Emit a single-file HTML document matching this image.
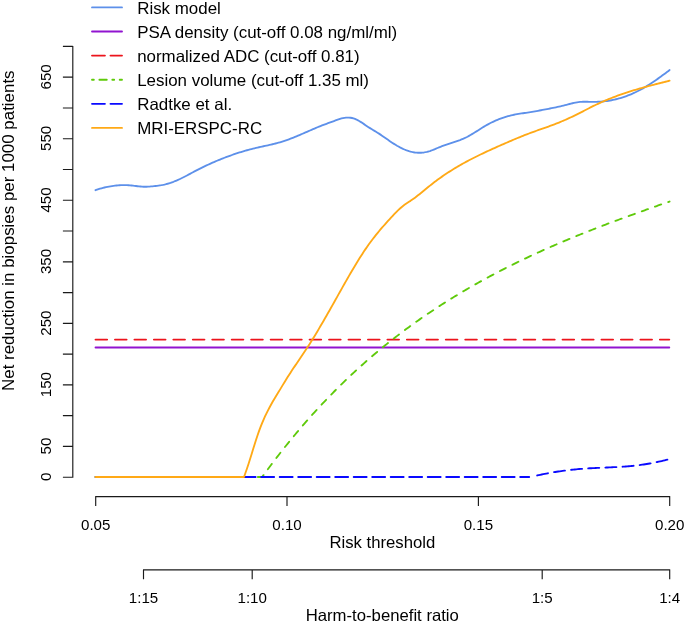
<!DOCTYPE html>
<html><head><meta charset="utf-8"><title>Decision curve</title>
<style>html,body{margin:0;padding:0;background:#fff}svg{display:block}</style></head>
<body>
<svg width="685" height="623" viewBox="0 0 685 623">
<rect width="685" height="623" fill="#fff"/>
<g fill="none" stroke-linecap="round" stroke-linejoin="round" stroke-width="1.85">
<path stroke="#5d90ea" d="M95.50,190.18 L97.00,189.67 L98.50,189.19 L100.00,188.73 L101.50,188.30 L103.00,187.90 L104.50,187.52 L106.00,187.17 L107.50,186.85 L109.00,186.56 L110.50,186.29 L112.00,186.05 L113.50,185.84 L115.00,185.65 L116.50,185.50 L118.00,185.37 L119.50,185.27 L121.00,185.20 L122.50,185.16 L124.00,185.14 L125.50,185.16 L127.00,185.20 L128.50,185.28 L130.00,185.38 L131.50,185.52 L133.00,185.68 L134.50,185.85 L136.00,186.04 L137.50,186.22 L139.00,186.38 L140.50,186.53 L142.00,186.65 L143.50,186.72 L145.00,186.75 L146.50,186.73 L148.00,186.66 L149.50,186.57 L151.00,186.45 L152.50,186.31 L154.00,186.16 L155.50,186.01 L157.00,185.83 L158.50,185.63 L160.00,185.41 L161.50,185.16 L163.00,184.87 L164.50,184.54 L166.00,184.17 L167.50,183.76 L169.00,183.31 L170.50,182.83 L172.00,182.31 L173.50,181.76 L175.00,181.17 L176.50,180.55 L178.00,179.90 L179.50,179.22 L181.00,178.51 L182.50,177.78 L184.00,177.02 L185.50,176.25 L187.00,175.46 L188.50,174.66 L190.00,173.85 L191.50,173.04 L193.00,172.23 L194.50,171.43 L196.00,170.64 L197.50,169.86 L199.00,169.10 L200.50,168.34 L202.00,167.60 L203.50,166.87 L205.00,166.14 L206.50,165.43 L208.00,164.74 L209.50,164.05 L211.00,163.37 L212.50,162.70 L214.00,162.05 L215.50,161.40 L217.00,160.77 L218.50,160.15 L220.00,159.54 L221.50,158.93 L223.00,158.34 L224.50,157.76 L226.00,157.19 L227.50,156.62 L229.00,156.07 L230.50,155.53 L232.00,155.00 L233.50,154.47 L235.00,153.96 L236.50,153.46 L238.00,152.97 L239.50,152.49 L241.00,152.02 L242.50,151.56 L244.00,151.11 L245.50,150.67 L247.00,150.24 L248.50,149.83 L250.00,149.43 L251.50,149.03 L253.00,148.66 L254.50,148.29 L256.00,147.93 L257.50,147.59 L259.00,147.25 L260.50,146.92 L262.00,146.59 L263.50,146.26 L265.00,145.94 L266.50,145.61 L268.00,145.28 L269.50,144.95 L271.00,144.60 L272.50,144.25 L274.00,143.89 L275.50,143.51 L277.00,143.12 L278.50,142.71 L280.00,142.28 L281.50,141.84 L283.00,141.37 L284.50,140.87 L286.00,140.36 L287.50,139.83 L289.00,139.28 L290.50,138.71 L292.00,138.13 L293.50,137.54 L295.00,136.93 L296.50,136.31 L298.00,135.68 L299.50,135.05 L301.00,134.40 L302.50,133.75 L304.00,133.10 L305.50,132.45 L307.00,131.79 L308.50,131.13 L310.00,130.48 L311.50,129.83 L313.00,129.18 L314.50,128.54 L316.00,127.90 L317.50,127.27 L319.00,126.66 L320.50,126.05 L322.00,125.46 L323.50,124.88 L325.00,124.32 L326.50,123.76 L328.00,123.22 L329.50,122.68 L331.00,122.14 L332.50,121.60 L334.00,121.04 L335.50,120.48 L337.00,119.92 L338.50,119.39 L340.00,118.90 L341.50,118.46 L343.00,118.10 L344.50,117.82 L346.00,117.64 L347.50,117.56 L349.00,117.59 L350.50,117.73 L352.00,117.99 L353.50,118.38 L355.00,118.90 L356.50,119.55 L358.00,120.32 L359.50,121.18 L361.00,122.11 L362.50,123.10 L364.00,124.12 L365.50,125.15 L367.00,126.17 L368.50,127.17 L370.00,128.13 L371.50,129.06 L373.00,129.96 L374.50,130.86 L376.00,131.77 L377.50,132.69 L379.00,133.65 L380.50,134.64 L382.00,135.66 L383.50,136.70 L385.00,137.75 L386.50,138.80 L388.00,139.85 L389.50,140.89 L391.00,141.92 L392.50,142.92 L394.00,143.89 L395.50,144.82 L397.00,145.72 L398.50,146.57 L400.00,147.38 L401.50,148.14 L403.00,148.85 L404.50,149.51 L406.00,150.11 L407.50,150.66 L409.00,151.15 L410.50,151.58 L412.00,151.95 L413.50,152.25 L415.00,152.49 L416.50,152.66 L418.00,152.76 L419.50,152.79 L421.00,152.75 L422.50,152.64 L424.00,152.46 L425.50,152.21 L427.00,151.89 L428.50,151.49 L430.00,151.03 L431.50,150.49 L433.00,149.91 L434.50,149.28 L436.00,148.64 L437.50,148.00 L439.00,147.37 L440.50,146.78 L442.00,146.21 L443.50,145.67 L445.00,145.15 L446.50,144.64 L448.00,144.15 L449.50,143.66 L451.00,143.18 L452.50,142.69 L454.00,142.20 L455.50,141.69 L457.00,141.17 L458.50,140.63 L460.00,140.07 L461.50,139.47 L463.00,138.84 L464.50,138.18 L466.00,137.46 L467.50,136.71 L469.00,135.90 L470.50,135.05 L472.00,134.16 L473.50,133.25 L475.00,132.32 L476.50,131.37 L478.00,130.41 L479.50,129.45 L481.00,128.50 L482.50,127.56 L484.00,126.64 L485.50,125.75 L487.00,124.89 L488.50,124.07 L490.00,123.28 L491.50,122.52 L493.00,121.80 L494.50,121.10 L496.00,120.44 L497.50,119.81 L499.00,119.22 L500.50,118.65 L502.00,118.11 L503.50,117.59 L505.00,117.11 L506.50,116.65 L508.00,116.22 L509.50,115.82 L511.00,115.44 L512.50,115.09 L514.00,114.75 L515.50,114.45 L517.00,114.16 L518.50,113.90 L520.00,113.66 L521.50,113.44 L523.00,113.22 L524.50,113.02 L526.00,112.81 L527.50,112.60 L529.00,112.38 L530.50,112.15 L532.00,111.90 L533.50,111.64 L535.00,111.36 L536.50,111.08 L538.00,110.80 L539.50,110.51 L541.00,110.23 L542.50,109.94 L544.00,109.66 L545.50,109.37 L547.00,109.09 L548.50,108.80 L550.00,108.51 L551.50,108.21 L553.00,107.91 L554.50,107.60 L556.00,107.28 L557.50,106.96 L559.00,106.63 L560.50,106.28 L562.00,105.93 L563.50,105.56 L565.00,105.18 L566.50,104.79 L568.00,104.39 L569.50,103.99 L571.00,103.60 L572.50,103.23 L574.00,102.88 L575.50,102.57 L577.00,102.30 L578.50,102.08 L580.00,101.92 L581.50,101.81 L583.00,101.76 L584.50,101.74 L586.00,101.75 L587.50,101.77 L589.00,101.80 L590.50,101.82 L592.00,101.83 L593.50,101.83 L595.00,101.82 L596.50,101.80 L598.00,101.75 L599.50,101.68 L601.00,101.59 L602.50,101.47 L604.00,101.33 L605.50,101.16 L607.00,100.96 L608.50,100.74 L610.00,100.50 L611.50,100.22 L613.00,99.92 L614.50,99.60 L616.00,99.25 L617.50,98.87 L619.00,98.47 L620.50,98.04 L622.00,97.58 L623.50,97.10 L625.00,96.59 L626.50,96.05 L628.00,95.49 L629.50,94.90 L631.00,94.28 L632.50,93.63 L634.00,92.96 L635.50,92.26 L637.00,91.53 L638.50,90.77 L640.00,89.98 L641.50,89.17 L643.00,88.33 L644.50,87.46 L646.00,86.57 L647.50,85.65 L649.00,84.70 L650.50,83.74 L652.00,82.75 L653.50,81.75 L655.00,80.72 L656.50,79.68 L658.00,78.63 L659.50,77.56 L661.00,76.47 L662.50,75.37 L664.00,74.26 L665.50,73.15 L667.00,72.02 L668.50,70.89 L669.60,70.05"/>
<path stroke="#9114d0" d="M95.5,347.5 H669.3"/>
<path stroke="#ec141c" stroke-dasharray="11.65 7.81" d="M95.5,339.6 H669.3"/>
<path stroke="#5fca0a" stroke-dasharray="6.65 7.35" stroke-dashoffset="5.66" d="M95.5,477 L262.20,477.00 L263.70,474.84 L265.20,472.80 L266.70,470.76 L268.20,468.74 L269.70,466.73 L271.20,464.74 L272.70,462.75 L274.20,460.78 L275.70,458.83 L277.20,456.88 L278.70,454.95 L280.20,453.03 L281.70,451.12 L283.20,449.22 L284.70,447.33 L286.20,445.46 L287.70,443.60 L289.20,441.75 L290.70,439.92 L292.20,438.09 L293.70,436.28 L295.20,434.48 L296.70,432.69 L298.20,430.91 L299.70,429.14 L301.20,427.38 L302.70,425.64 L304.20,423.91 L305.70,422.18 L307.20,420.47 L308.70,418.77 L310.20,417.08 L311.70,415.41 L313.20,413.74 L314.70,412.08 L316.20,410.44 L317.70,408.80 L319.20,407.18 L320.70,405.57 L322.20,403.96 L323.70,402.37 L325.20,400.79 L326.70,399.22 L328.20,397.66 L329.70,396.11 L331.20,394.57 L332.70,393.03 L334.20,391.51 L335.70,390.00 L337.20,388.50 L338.70,387.01 L340.20,385.53 L341.70,384.06 L343.20,382.60 L344.70,381.14 L346.20,379.70 L347.70,378.27 L349.20,376.84 L350.70,375.43 L352.20,374.02 L353.70,372.63 L355.20,371.24 L356.70,369.86 L358.20,368.49 L359.70,367.13 L361.20,365.78 L362.70,364.44 L364.20,363.11 L365.70,361.78 L367.20,360.47 L368.70,359.16 L370.20,357.86 L371.70,356.57 L373.20,355.29 L374.70,354.01 L376.20,352.75 L377.70,351.49 L379.20,350.24 L380.70,349.00 L382.20,347.77 L383.70,346.54 L385.20,345.33 L386.70,344.12 L388.20,342.92 L389.70,341.72 L391.20,340.54 L392.70,339.36 L394.20,338.19 L395.70,337.02 L397.20,335.87 L398.70,334.72 L400.20,333.58 L401.70,332.44 L403.20,331.32 L404.70,330.20 L406.20,329.08 L407.70,327.98 L409.20,326.88 L410.70,325.79 L412.20,324.70 L413.70,323.62 L415.20,322.55 L416.70,321.49 L418.20,320.43 L419.70,319.38 L421.20,318.33 L422.70,317.29 L424.20,316.26 L425.70,315.23 L427.20,314.21 L428.70,313.19 L430.20,312.19 L431.70,311.18 L433.20,310.19 L434.70,309.20 L436.20,308.21 L437.70,307.23 L439.20,306.26 L440.70,305.29 L442.20,304.33 L443.70,303.37 L445.20,302.42 L446.70,301.47 L448.20,300.53 L449.70,299.59 L451.20,298.66 L452.70,297.74 L454.20,296.82 L455.70,295.90 L457.20,294.99 L458.70,294.09 L460.20,293.19 L461.70,292.29 L463.20,291.40 L464.70,290.52 L466.20,289.64 L467.70,288.76 L469.20,287.89 L470.70,287.02 L472.20,286.16 L473.70,285.31 L475.20,284.45 L476.70,283.61 L478.20,282.76 L479.70,281.93 L481.20,281.09 L482.70,280.26 L484.20,279.44 L485.70,278.62 L487.20,277.80 L488.70,276.99 L490.20,276.19 L491.70,275.38 L493.20,274.59 L494.70,273.79 L496.20,273.00 L497.70,272.22 L499.20,271.44 L500.70,270.66 L502.20,269.89 L503.70,269.12 L505.20,268.35 L506.70,267.59 L508.20,266.83 L509.70,266.08 L511.20,265.33 L512.70,264.59 L514.20,263.84 L515.70,263.11 L517.20,262.37 L518.70,261.64 L520.20,260.92 L521.70,260.19 L523.20,259.47 L524.70,258.76 L526.20,258.05 L527.70,257.34 L529.20,256.63 L530.70,255.93 L532.20,255.23 L533.70,254.54 L535.20,253.85 L536.70,253.16 L538.20,252.47 L539.70,251.79 L541.20,251.11 L542.70,250.44 L544.20,249.77 L545.70,249.10 L547.20,248.43 L548.70,247.77 L550.20,247.11 L551.70,246.46 L553.20,245.80 L554.70,245.15 L556.20,244.50 L557.70,243.86 L559.20,243.22 L560.70,242.58 L562.20,241.94 L563.70,241.31 L565.20,240.68 L566.70,240.05 L568.20,239.42 L569.70,238.80 L571.20,238.18 L572.70,237.56 L574.20,236.95 L575.70,236.33 L577.20,235.72 L578.70,235.12 L580.20,234.51 L581.70,233.91 L583.20,233.31 L584.70,232.71 L586.20,232.11 L587.70,231.52 L589.20,230.93 L590.70,230.34 L592.20,229.75 L593.70,229.16 L595.20,228.58 L596.70,228.00 L598.20,227.42 L599.70,226.84 L601.20,226.26 L602.70,225.69 L604.20,225.12 L605.70,224.55 L607.20,223.98 L608.70,223.41 L610.20,222.85 L611.70,222.29 L613.20,221.72 L614.70,221.17 L616.20,220.61 L617.70,220.05 L619.20,219.50 L620.70,218.94 L622.20,218.39 L623.70,217.84 L625.20,217.29 L626.70,216.74 L628.20,216.19 L629.70,215.65 L631.20,215.11 L632.70,214.56 L634.20,214.02 L635.70,213.48 L637.20,212.94 L638.70,212.40 L640.20,211.87 L641.70,211.33 L643.20,210.79 L644.70,210.26 L646.20,209.73 L647.70,209.20 L649.20,208.66 L650.70,208.13 L652.20,207.60 L653.70,207.07 L655.20,206.55 L656.70,206.02 L658.20,205.49 L659.70,204.97 L661.20,204.44 L662.70,203.92 L664.20,203.39 L665.70,202.87 L667.20,202.34 L668.70,201.82 L669.60,201.51"/>
<path stroke="#0a0aff" stroke-dasharray="12.95 5.55" stroke-dashoffset="0.8" d="M95.5,477.0 H529.2"/>
<path stroke="#0a0aff" stroke-dasharray="11.1 6.1" stroke-dashoffset="11.1" d="M531.20,476.90 L532.70,476.52 L534.20,476.16 L535.70,475.81 L537.20,475.47 L538.70,475.13 L540.20,474.80 L541.70,474.49 L543.20,474.18 L544.70,473.87 L546.20,473.58 L547.70,473.29 L549.20,473.02 L550.70,472.75 L552.20,472.49 L553.70,472.23 L555.20,471.99 L556.70,471.75 L558.20,471.52 L559.70,471.29 L561.20,471.08 L562.70,470.87 L564.20,470.67 L565.70,470.48 L567.20,470.29 L568.70,470.11 L570.20,469.94 L571.70,469.77 L573.20,469.61 L574.70,469.46 L576.20,469.31 L577.70,469.18 L579.20,469.04 L580.70,468.92 L582.20,468.80 L583.70,468.69 L585.20,468.58 L586.70,468.48 L588.20,468.38 L589.70,468.29 L591.20,468.21 L592.70,468.13 L594.20,468.06 L595.70,467.98 L597.20,467.91 L598.70,467.85 L600.20,467.78 L601.70,467.72 L603.20,467.66 L604.70,467.59 L606.20,467.53 L607.70,467.47 L609.20,467.41 L610.70,467.34 L612.20,467.27 L613.70,467.20 L615.20,467.13 L616.70,467.05 L618.20,466.97 L619.70,466.88 L621.20,466.79 L622.70,466.70 L624.20,466.59 L625.70,466.48 L627.20,466.36 L628.70,466.24 L630.20,466.11 L631.70,465.96 L633.20,465.81 L634.70,465.65 L636.20,465.48 L637.70,465.30 L639.20,465.11 L640.70,464.90 L642.20,464.69 L643.70,464.47 L645.20,464.24 L646.70,463.99 L648.20,463.74 L649.70,463.48 L651.20,463.21 L652.70,462.92 L654.20,462.63 L655.70,462.33 L657.20,462.02 L658.70,461.70 L660.20,461.37 L661.70,461.03 L663.20,460.68 L664.70,460.32 L666.20,459.96 L667.70,459.58 L669.20,459.19 L669.60,459.09"/>
<path stroke="#ffa916" d="M95.5,477 L244.00,477.00 L245.50,472.71 L247.00,468.45 L248.50,463.95 L250.00,459.26 L251.50,454.42 L253.00,449.53 L254.50,444.68 L256.00,439.95 L257.50,435.42 L259.00,431.15 L260.50,427.14 L262.00,423.37 L263.50,419.82 L265.00,416.48 L266.50,413.32 L268.00,410.32 L269.50,407.46 L271.00,404.72 L272.50,402.07 L274.00,399.50 L275.50,396.99 L277.00,394.52 L278.50,392.07 L280.00,389.61 L281.50,387.13 L283.00,384.64 L284.50,382.16 L286.00,379.71 L287.50,377.31 L289.00,374.95 L290.50,372.64 L292.00,370.36 L293.50,368.10 L295.00,365.87 L296.50,363.66 L298.00,361.45 L299.50,359.25 L301.00,357.05 L302.50,354.83 L304.00,352.60 L305.50,350.35 L307.00,348.07 L308.50,345.75 L310.00,343.40 L311.50,341.02 L313.00,338.60 L314.50,336.15 L316.00,333.67 L317.50,331.17 L319.00,328.64 L320.50,326.09 L322.00,323.52 L323.50,320.93 L325.00,318.32 L326.50,315.70 L328.00,313.07 L329.50,310.42 L331.00,307.76 L332.50,305.10 L334.00,302.43 L335.50,299.76 L337.00,297.09 L338.50,294.41 L340.00,291.74 L341.50,289.08 L343.00,286.42 L344.50,283.77 L346.00,281.13 L347.50,278.50 L349.00,275.89 L350.50,273.30 L352.00,270.73 L353.50,268.19 L355.00,265.68 L356.50,263.20 L358.00,260.75 L359.50,258.34 L361.00,255.97 L362.50,253.64 L364.00,251.36 L365.50,249.13 L367.00,246.95 L368.50,244.82 L370.00,242.75 L371.50,240.72 L373.00,238.74 L374.50,236.81 L376.00,234.92 L377.50,233.07 L379.00,231.25 L380.50,229.47 L382.00,227.71 L383.50,225.99 L385.00,224.29 L386.50,222.61 L388.00,220.95 L389.50,219.31 L391.00,217.68 L392.50,216.06 L394.00,214.47 L395.50,212.90 L397.00,211.38 L398.50,209.92 L400.00,208.52 L401.50,207.20 L403.00,205.97 L404.50,204.84 L406.00,203.80 L407.50,202.81 L409.00,201.84 L410.50,200.86 L412.00,199.83 L413.50,198.76 L415.00,197.66 L416.50,196.52 L418.00,195.35 L419.50,194.16 L421.00,192.96 L422.50,191.74 L424.00,190.51 L425.50,189.28 L427.00,188.05 L428.50,186.83 L430.00,185.62 L431.50,184.43 L433.00,183.25 L434.50,182.10 L436.00,180.97 L437.50,179.85 L439.00,178.76 L440.50,177.68 L442.00,176.63 L443.50,175.59 L445.00,174.57 L446.50,173.57 L448.00,172.58 L449.50,171.61 L451.00,170.66 L452.50,169.72 L454.00,168.79 L455.50,167.89 L457.00,166.99 L458.50,166.11 L460.00,165.24 L461.50,164.39 L463.00,163.55 L464.50,162.72 L466.00,161.90 L467.50,161.10 L469.00,160.30 L470.50,159.52 L472.00,158.74 L473.50,157.98 L475.00,157.22 L476.50,156.47 L478.00,155.73 L479.50,155.00 L481.00,154.28 L482.50,153.56 L484.00,152.85 L485.50,152.15 L487.00,151.45 L488.50,150.76 L490.00,150.07 L491.50,149.39 L493.00,148.71 L494.50,148.04 L496.00,147.37 L497.50,146.70 L499.00,146.03 L500.50,145.37 L502.00,144.71 L503.50,144.05 L505.00,143.39 L506.50,142.74 L508.00,142.09 L509.50,141.44 L511.00,140.80 L512.50,140.16 L514.00,139.52 L515.50,138.89 L517.00,138.27 L518.50,137.65 L520.00,137.03 L521.50,136.43 L523.00,135.82 L524.50,135.23 L526.00,134.64 L527.50,134.06 L529.00,133.49 L530.50,132.93 L532.00,132.37 L533.50,131.82 L535.00,131.29 L536.50,130.75 L538.00,130.22 L539.50,129.70 L541.00,129.18 L542.50,128.65 L544.00,128.13 L545.50,127.60 L547.00,127.07 L548.50,126.54 L550.00,125.99 L551.50,125.44 L553.00,124.88 L554.50,124.31 L556.00,123.72 L557.50,123.13 L559.00,122.52 L560.50,121.90 L562.00,121.27 L563.50,120.63 L565.00,119.98 L566.50,119.32 L568.00,118.65 L569.50,117.96 L571.00,117.27 L572.50,116.56 L574.00,115.85 L575.50,115.12 L577.00,114.38 L578.50,113.63 L580.00,112.87 L581.50,112.10 L583.00,111.33 L584.50,110.55 L586.00,109.77 L587.50,108.99 L589.00,108.21 L590.50,107.45 L592.00,106.69 L593.50,105.94 L595.00,105.21 L596.50,104.49 L598.00,103.79 L599.50,103.10 L601.00,102.42 L602.50,101.75 L604.00,101.10 L605.50,100.46 L607.00,99.83 L608.50,99.21 L610.00,98.61 L611.50,98.01 L613.00,97.43 L614.50,96.86 L616.00,96.29 L617.50,95.74 L619.00,95.20 L620.50,94.66 L622.00,94.14 L623.50,93.62 L625.00,93.12 L626.50,92.62 L628.00,92.13 L629.50,91.64 L631.00,91.17 L632.50,90.70 L634.00,90.24 L635.50,89.79 L637.00,89.34 L638.50,88.90 L640.00,88.47 L641.50,88.04 L643.00,87.61 L644.50,87.20 L646.00,86.78 L647.50,86.37 L649.00,85.97 L650.50,85.57 L652.00,85.17 L653.50,84.78 L655.00,84.39 L656.50,84.01 L658.00,83.62 L659.50,83.24 L661.00,82.86 L662.50,82.49 L664.00,82.11 L665.50,81.74 L667.00,81.37 L668.50,81.00 L669.60,80.72"/>
</g>
<g fill="none" stroke="#1a1a1a" stroke-width="1.15" stroke-linecap="butt">
<path d="M72.8,45.92 V477.70 M62.9,477.20 H72.8 M62.9,446.43 H72.8 M62.9,415.66 H72.8 M62.9,384.89 H72.8 M62.9,354.12 H72.8 M62.9,323.35 H72.8 M62.9,292.58 H72.8 M62.9,261.81 H72.8 M62.9,231.04 H72.8 M62.9,200.27 H72.8 M62.9,169.50 H72.8 M62.9,138.73 H72.8 M62.9,107.96 H72.8 M62.9,77.19 H72.8 M62.9,46.42 H72.8"/>
<path d="M95.2,496.6 H670.2 M95.7,496.6 V505.9 M287.0,496.6 V505.9 M478.4,496.6 V505.9 M669.7,496.6 V505.9"/>
<path d="M143.0,569.8 H670.2 M143.5,569.8 V579.2 M252.2,569.8 V579.2 M542.2,569.8 V579.2 M669.7,569.8 V579.2"/>
</g>
<g font-family="'Liberation Sans', Arial, sans-serif" fill="#000">
<g font-size="16.92px">
<text x="137.2" y="13.9">Risk model</text>
<text x="137.2" y="38.0">PSA density (cut-off 0.08 ng/ml/ml)</text>
<text x="137.2" y="62.1">normalized ADC (cut-off 0.81)</text>
<text x="137.2" y="86.2">Lesion volume (cut-off 1.35 ml)</text>
<text x="137.2" y="110.3">Radtke et al.</text>
<text x="137.2" y="134.4">MRI-ERSPC-RC</text>
<text x="382.3" y="548.2" text-anchor="middle" font-size="16.72px">Risk threshold</text>
<text x="382.3" y="621.3" text-anchor="middle" font-size="16.72px">Harm-to-benefit ratio</text>
<text transform="translate(14.4,230.7) rotate(-90)" text-anchor="middle" font-size="16.92px">Net reduction in biopsies per 1000 patients</text>
</g>
<g font-size="15.1px" text-anchor="middle">
<text x="95.7" y="529.6">0.05</text>
<text x="287.0" y="529.6">0.10</text>
<text x="478.4" y="529.6">0.15</text>
<text x="669.7" y="529.6">0.20</text>
<text x="143.5" y="603.4">1:15</text>
<text x="252.2" y="603.4">1:10</text>
<text x="542.2" y="603.4">1:5</text>
<text x="669.7" y="603.4">1:4</text>
<text transform="translate(51.0,476.9) rotate(-90)">0</text>
<text transform="translate(51.0,446.1) rotate(-90)">50</text>
<text transform="translate(51.0,384.6) rotate(-90)">150</text>
<text transform="translate(51.0,323.1) rotate(-90)">250</text>
<text transform="translate(51.0,261.5) rotate(-90)">350</text>
<text transform="translate(51.0,200.0) rotate(-90)">450</text>
<text transform="translate(51.0,138.4) rotate(-90)">550</text>
<text transform="translate(51.0,76.9) rotate(-90)">650</text>
</g></g>
<g fill="none" stroke-linecap="round" stroke-width="1.85">
<path stroke="#5d90ea"  d="M92,7.4 H122"/>
<path stroke="#9114d0"  d="M92,31.5 H122"/>
<path stroke="#ec141c" stroke-dasharray="12.94 5.54" d="M92,55.6 H122"/>
<path stroke="#5fca0a" stroke-dasharray="1.85 5.54 7.39 5.54" d="M92,79.7 H122"/>
<path stroke="#0a0aff" stroke-dasharray="12.94 5.54" d="M92,103.8 H122"/>
<path stroke="#ffa916"  d="M92,127.9 H122"/>
</g>
</svg>
</body></html>
